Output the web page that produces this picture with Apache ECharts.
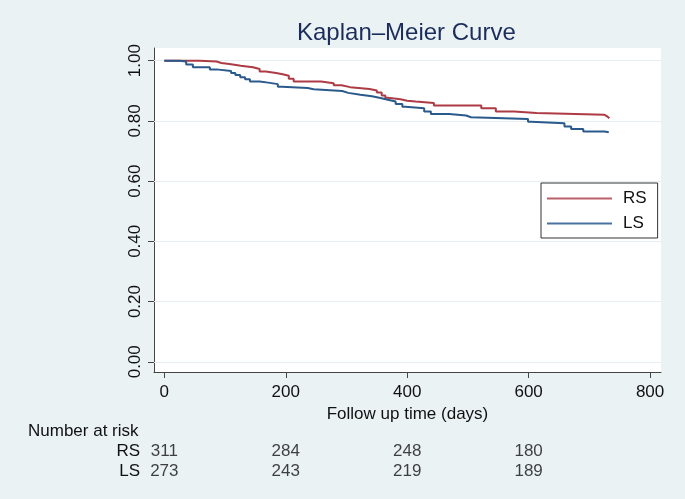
<!DOCTYPE html>
<html>
<head>
<meta charset="utf-8">
<script src="https://cdn.jsdelivr.net/npm/echarts@6/dist/echarts.min.js"></script>
<style>
html,body{margin:0;padding:0;background:#eaf2f3;}
#chart{width:685px;height:499px;}
</style>
</head>
<body>
<div id="chart"></div>
<script>
// Kaplan-Meier step data: [day, survival]
const rsCurve = [[0,1.0],[58,0.997],[86,0.992],[94,0.988],[110,0.983],[126,0.978],[146,0.972],[157,0.964],[167,0.959],[184,0.955],[195,0.950],[205,0.940],[213,0.931],[258,0.925],[279,0.918],[292,0.912],[306,0.906],[338,0.901],[350,0.894],[358,0.884],[364,0.877],[368,0.872],[389,0.867],[400,0.864],[414,0.859],[444,0.851],[522,0.842],[546,0.831],[576,0.826],[613,0.820],[725,0.814],[730,0.809],[733,0.809]];
const lsCurve = [[0,1.0],[25,0.997],[36,0.987],[47,0.978],[75,0.971],[86,0.966],[110,0.959],[117,0.952],[125,0.945],[133,0.938],[141,0.931],[157,0.927],[171,0.922],[187,0.913],[194,0.909],[236,0.905],[246,0.899],[293,0.893],[303,0.887],[323,0.882],[342,0.876],[356,0.870],[368,0.864],[381,0.856],[392,0.847],[397,0.842],[428,0.831],[439,0.823],[469,0.818],[497,0.812],[505,0.806],[599,0.797],[604,0.792],[659,0.781],[670,0.773],[690,0.765],[725,0.762],[732,0.762]];
const groups = ['RS','LS'];
const riskTimes = [0,200,400,600];
const riskRS = [311,284,248,180];
const riskLS = [273,243,219,189];
const xTicks = [0,200,400,600,800];
const yTicks = [0,0.2,0.4,0.6,0.8,1.0];

const FONT = 'Liberation Sans, Arial, Helvetica, sans-serif';
const chart = echarts.init(document.getElementById('chart'), null, {renderer:'canvas'});

const riskData = [];
riskTimes.forEach((t,i)=>{ riskData.push([t,0,riskRS[i]]); riskData.push([t,1,riskLS[i]]); });

chart.setOption({
  backgroundColor:'#eaf2f3',
  animation:false,
  textStyle:{fontFamily:FONT},
  title:[
    {text:'Kaplan\u2013Meier Curve', top:21, left:297, padding:0, textStyle:{fontFamily:FONT,fontSize:24,fontWeight:'normal',color:'#1c2d5c'}},
    {text:'Number at risk', left:28, top:423, padding:0, textStyle:{fontFamily:FONT,fontSize:17,fontWeight:'normal',color:'#111'}}
  ],
  legend:{
    data:groups, orient:'vertical', left:541, top:183, icon:'rect',
    padding:[7,11,6,6], itemGap:8, itemWidth:65, itemHeight:2,
    backgroundColor:'#ffffff', borderColor:'#333', borderWidth:1, borderRadius:0,
    textStyle:{fontFamily:FONT,fontSize:17,color:'#111', padding:[0,0,0,6], lineHeight:17}
  },
  grid:[
    {left:154, right:24, top:48, height:324, backgroundColor:'#ffffff', show:true, borderWidth:0},
    {left:154, right:24, top:441, height:40}
  ],
  xAxis:[
    {type:'value', gridIndex:0, min:-17, max:818,
     name:'Follow up time (days)', nameLocation:'middle', nameGap:30,
     nameTextStyle:{fontFamily:FONT,fontSize:17,color:'#111'},
     axisLine:{show:true,onZero:false,lineStyle:{color:'#444',width:1}},
     axisTick:{show:true,length:6,customValues:xTicks,lineStyle:{color:'#444'}},
     axisLabel:{customValues:xTicks,fontFamily:FONT,fontSize:17,color:'#111',margin:12},
     splitLine:{show:false}},
    {type:'value', gridIndex:1, min:-17, max:818, show:false}
  ],
  yAxis:[
    {type:'value', gridIndex:0, min:-0.034, max:1.042,
     axisLine:{show:true,onZero:false,lineStyle:{color:'#444',width:1}},
     axisTick:{show:true,length:6,customValues:yTicks,lineStyle:{color:'#444'}},
     axisLabel:{customValues:yTicks,rotate:90,fontFamily:FONT,fontSize:17,color:'#111',margin:10,
       formatter:v=>v.toFixed(2)},
     splitLine:{show:false}},
    {type:'category', gridIndex:1, data:groups, inverse:true,
     axisLine:{show:false}, axisTick:{show:false},
     axisLabel:{interval:0,fontFamily:FONT,fontSize:17,color:'#111',margin:14}}
  ],
  series:[
    {name:'RS', type:'line', step:'end', xAxisIndex:0, yAxisIndex:0, data:rsCurve,
     symbol:'none', lineStyle:{color:'#ad3b45',width:2}, itemStyle:{color:'#b9606a'},
     z:3,
     markLine:{silent:true, symbol:['none','none'], label:{show:false},
       lineStyle:{color:'#e5eef0',width:1,type:'solid'},
       data:yTicks.map(v=>({yAxis:v})), z:1}},
    {name:'LS', type:'line', step:'end', xAxisIndex:0, yAxisIndex:0, data:lsCurve,
     symbol:'none', lineStyle:{color:'#2a5a8b',width:2}, itemStyle:{color:'#4a72a0'}, z:3},
    {type:'scatter', xAxisIndex:1, yAxisIndex:1, data:riskData, symbolSize:1,
     itemStyle:{color:'rgba(0,0,0,0)'}, silent:true,
     label:{show:true, position:'inside', formatter:p=>String(p.value[2]),
       fontFamily:FONT, fontSize:17, color:'#111'}}
  ]
});
</script>
</body>
</html>
